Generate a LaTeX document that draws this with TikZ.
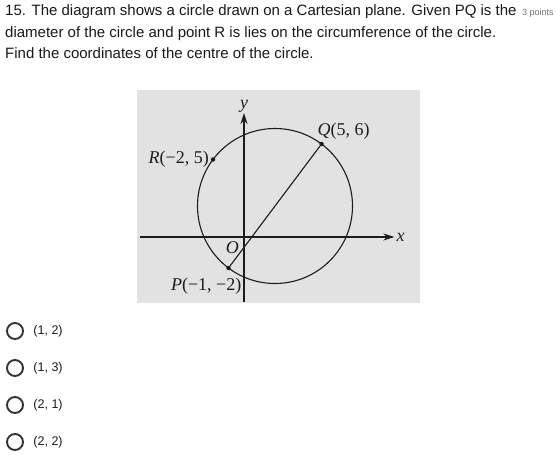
\documentclass[tikz,border=0pt]{standalone}
\usepackage{fontspec}
\setmainfont{Liberation Sans}
\newfontfamily\bookfont{Liberation Serif}
\usetikzlibrary{arrows.meta}
\definecolor{photogray}{RGB}{226,226,226}
\definecolor{ink}{RGB}{28,28,28}
\definecolor{qtext}{RGB}{25,25,25}
\tikzset{
  question/.style={anchor=base west, inner sep=0pt, text=qtext, font=\fontsize{15}{17}\selectfont},
  choicetext/.style={text=qtext, font=\fontsize{12.5}{14}\selectfont, label distance=6pt},
  choice/.style={circle, draw=black!80, line width=1.9pt, minimum size=16pt, inner sep=0pt, label={[choicetext]right:#1}},
  axis/.style={draw=ink, line width=1.4pt, -{Stealth[length=11pt,width=7pt]}},
  curve/.style={draw=ink, line width=1.1pt},
  dot/.style={circle, fill=ink, minimum size=4.5pt, inner sep=0pt},
  ptlabel/.style={inner sep=0pt, text=ink, font=\bookfont\fontsize{18}{20}\selectfont}
}
\begin{document}
\begin{tikzpicture}[x=1pt, y=-1pt]
\useasboundingbox (0,0) rectangle (557,455);
% question text
\node[question] (line1) at (5,16) {15. The diagram shows a circle drawn on a Cartesian plane. Given PQ is the};
\node[question] (line2) at (5,37) {diameter of the circle and point R is lies on the circumference of the circle.};
\node[question] (line3) at (5,58) {Find the coordinates of the centre of the circle.};
\node[anchor=base west, inner sep=0pt, text=black!55, font=\fontsize{9}{10}\selectfont] (pts) at (522,16) {3 points};
% the photographed figure
\fill[photogray] (137,90) rectangle (420,303);
\begin{scope}[shift={(244,237)}, x=15.5pt, y=15.5pt]
  \coordinate (O) at (0,0);
  \coordinate (C) at (2,2);
  \coordinate (xs) at (-6.7,0);
  \coordinate (xe) at (9.7,0);
  \coordinate (ys) at (0,-4.2);
  \coordinate (ye) at (0,8.0);
  \draw[axis] (xs) -- (xe);
  \draw[axis] (ys) -- (ye);
  \draw[curve] (C) circle[radius=5];
  \node[dot] (P) at (-1,-2) {};
  \node[dot] (Q) at (5,6) {};
  \node[dot] (R) at (-2,5) {};
  \draw[curve] (P) -- (Q);
  \node[ptlabel, anchor=west] at ([xshift=2pt]xe) {\itshape x};
  \node[ptlabel, anchor=south] at ([yshift=0pt]ye) {\itshape y};
  \node[ptlabel, anchor=north east] at ([xshift=-5pt,yshift=-4pt]O) {\itshape O};
  \node[ptlabel, anchor=base west] at ([xshift=-4pt,yshift=9pt]Q) {{\itshape Q}(5, 6)};
  \node[ptlabel, anchor=base east] at ([xshift=-4pt,yshift=-3.5pt]R) {{\itshape R}(−2, 5)};
  \node[ptlabel, anchor=base east] at ([xshift=13pt,yshift=-22pt]P) {{\itshape P}(−1, −2)};
\end{scope}
% answer choices
\node[choice={(1, 2)}] (c1) at (15,331) {};
\node[choice={(1, 3)}] (c2) at (15,368) {};
\node[choice={(2, 1)}] (c3) at (15,405) {};
\node[choice={(2, 2)}] (c4) at (15,442) {};
\end{tikzpicture}
\end{document}
